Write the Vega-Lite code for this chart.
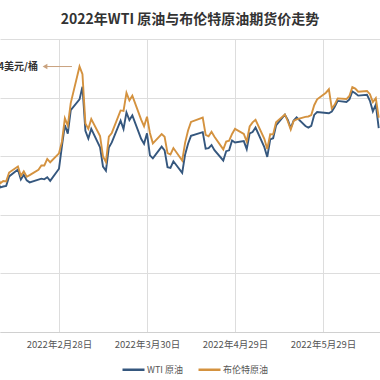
{
  "$schema": "https://vega.github.io/schema/vega-lite/v6.json",
  "width": 380,
  "height": 293,
  "autosize": {"type": "none"},
  "padding": {"top": 39, "left": 0, "right": 0, "bottom": 48},
  "background": "white",
  "title": {"text": "2022年WTI 原油与布伦特原油期货价走势", "fontSize": 14, "fontWeight": "bold", "color": "#333333", "font": "Noto Sans CJK SC", "anchor": "middle", "offset": 12},
  "config": {"view": {"stroke": null}, "font": "Noto Sans CJK SC"},
  "layer": [
    {
      "data": {"values": [
        {"d": "2022-02-07", "WTI 原油": 91.32, "布伦特原油": 92.69},
        {"d": "2022-02-08", "WTI 原油": 89.36, "布伦特原油": 90.78},
        {"d": "2022-02-09", "WTI 原油": 89.66, "布伦特原油": 91.55},
        {"d": "2022-02-10", "WTI 原油": 89.88, "布伦特原油": 91.41},
        {"d": "2022-02-11", "WTI 原油": 93.10, "布伦特原油": 94.44},
        {"d": "2022-02-14", "WTI 原油": 95.46, "布伦特原油": 96.48},
        {"d": "2022-02-15", "WTI 原油": 92.07, "布伦特原油": 93.28},
        {"d": "2022-02-16", "WTI 原油": 93.66, "布伦特原油": 94.81},
        {"d": "2022-02-17", "WTI 原油": 91.76, "布伦特原油": 92.97},
        {"d": "2022-02-18", "WTI 原油": 91.07, "布伦特原油": 93.54},
        {"d": "2022-02-21", "WTI 原油": null, "布伦特原油": 95.39},
        {"d": "2022-02-22", "WTI 原油": 92.35, "布伦特原油": 96.84},
        {"d": "2022-02-23", "WTI 原油": 92.10, "布伦特原油": 96.84},
        {"d": "2022-02-24", "WTI 原油": 92.81, "布伦特原油": 99.08},
        {"d": "2022-02-25", "WTI 原油": 91.59, "布伦特原油": 97.93},
        {"d": "2022-02-28", "WTI 原油": 95.72, "布伦特原油": 100.99},
        {"d": "2022-03-01", "WTI 原油": 103.41, "布伦特原油": 104.97},
        {"d": "2022-03-02", "WTI 原油": 110.60, "布伦特原油": 112.93},
        {"d": "2022-03-03", "WTI 原油": 107.67, "布伦特原油": 110.46},
        {"d": "2022-03-04", "WTI 原油": 115.68, "布伦特原油": 118.11},
        {"d": "2022-03-07", "WTI 原油": 119.40, "布伦特原油": 130.6},
        {"d": "2022-03-08", "WTI 原油": 123.70, "布伦特原油": 127.98},
        {"d": "2022-03-09", "WTI 原油": 108.70, "布伦特原油": 111.14},
        {"d": "2022-03-10", "WTI 原油": 106.02, "布伦特原油": 109.33},
        {"d": "2022-03-11", "WTI 原油": 109.33, "布伦特原油": 112.67},
        {"d": "2022-03-14", "WTI 原油": 103.01, "布伦特原油": 106.90},
        {"d": "2022-03-15", "WTI 原油": 96.44, "布伦特原油": 99.91},
        {"d": "2022-03-16", "WTI 原油": 95.04, "布伦特原油": 98.02},
        {"d": "2022-03-17", "WTI 原油": 102.98, "布伦特原油": 106.64},
        {"d": "2022-03-18", "WTI 原油": 104.70, "布伦特原油": 107.93},
        {"d": "2022-03-21", "WTI 原油": 112.12, "布伦特原油": 115.62},
        {"d": "2022-03-22", "WTI 原油": 109.27, "布伦特原油": 115.48},
        {"d": "2022-03-23", "WTI 原油": 114.93, "布伦特原油": 121.60},
        {"d": "2022-03-24", "WTI 原油": 112.34, "布伦特原油": 119.03},
        {"d": "2022-03-25", "WTI 原油": 113.90, "布伦特原油": 120.65},
        {"d": "2022-03-28", "WTI 原油": 105.96, "布伦特原油": 112.48},
        {"d": "2022-03-29", "WTI 原油": 104.24, "布伦特原油": 110.23},
        {"d": "2022-03-30", "WTI 原油": 107.82, "布伦特原油": 113.45},
        {"d": "2022-03-31", "WTI 原油": 100.28, "布伦特原油": 107.91},
        {"d": "2022-04-01", "WTI 原油": 99.27, "布伦特原油": 104.39},
        {"d": "2022-04-04", "WTI 原油": 103.28, "布伦特原油": 107.53},
        {"d": "2022-04-05", "WTI 原油": 102.00, "布伦特原油": 106.64},
        {"d": "2022-04-06", "WTI 原油": 96.23, "布伦特原油": 101.07},
        {"d": "2022-04-07", "WTI 原油": 96.03, "布伦特原油": 100.58},
        {"d": "2022-04-08", "WTI 原油": 98.26, "布伦特原油": 102.78},
        {"d": "2022-04-11", "WTI 原油": 94.29, "布伦特原油": 98.48},
        {"d": "2022-04-12", "WTI 原油": 100.60, "布伦特原油": 104.64},
        {"d": "2022-04-13", "WTI 原油": 104.25, "布伦特原油": 108.78},
        {"d": "2022-04-14", "WTI 原油": 106.95, "布伦特原油": 111.70},
        {"d": "2022-04-18", "WTI 原油": 108.21, "布伦特原油": 113.16},
        {"d": "2022-04-19", "WTI 原油": 102.56, "布伦特原油": 107.25},
        {"d": "2022-04-20", "WTI 原油": 102.75, "布伦特原油": 106.80},
        {"d": "2022-04-21", "WTI 原油": 103.79, "布伦特原油": 108.33},
        {"d": "2022-04-22", "WTI 原油": 102.07, "布伦特原油": 106.65},
        {"d": "2022-04-25", "WTI 原油": 98.54, "布伦特原油": 102.32},
        {"d": "2022-04-26", "WTI 原油": 101.70, "布伦特原油": 104.99},
        {"d": "2022-04-27", "WTI 原油": 102.02, "布伦特原油": 105.32},
        {"d": "2022-04-28", "WTI 原油": 105.36, "布伦特原油": 107.59},
        {"d": "2022-04-29", "WTI 原油": 104.69, "布伦特原油": 109.34},
        {"d": "2022-05-02", "WTI 原油": 105.17, "布伦特原油": 107.58},
        {"d": "2022-05-03", "WTI 原油": 102.41, "布伦特原油": 104.97},
        {"d": "2022-05-04", "WTI 原油": 107.81, "布伦特原油": 110.14},
        {"d": "2022-05-05", "WTI 原油": 108.26, "布伦特原油": 111.55},
        {"d": "2022-05-06", "WTI 原油": 109.77, "布伦特原油": 112.39},
        {"d": "2022-05-09", "WTI 原油": 103.09, "布伦特原油": 105.94},
        {"d": "2022-05-10", "WTI 原油": 99.76, "布伦特原油": 102.46},
        {"d": "2022-05-11", "WTI 原油": 105.71, "布伦特原油": 107.51},
        {"d": "2022-05-12", "WTI 原油": 106.13, "布伦特原油": 107.45},
        {"d": "2022-05-13", "WTI 原油": 110.49, "布伦特原油": 111.55},
        {"d": "2022-05-16", "WTI 原油": 114.20, "布伦特原油": 114.24},
        {"d": "2022-05-17", "WTI 原油": 112.40, "布伦特原油": 111.93},
        {"d": "2022-05-18", "WTI 原油": 109.59, "布伦特原油": 109.11},
        {"d": "2022-05-19", "WTI 原油": 112.21, "布伦特原油": 112.04},
        {"d": "2022-05-20", "WTI 原油": 113.23, "布伦特原油": 112.55},
        {"d": "2022-05-23", "WTI 原油": 110.29, "布伦特原油": 113.42},
        {"d": "2022-05-24", "WTI 原油": 109.77, "布伦特原油": 113.56},
        {"d": "2022-05-25", "WTI 原油": 110.33, "布伦特原油": 114.03},
        {"d": "2022-05-26", "WTI 原油": 114.09, "布伦特原油": 117.40},
        {"d": "2022-05-27", "WTI 原油": 115.07, "布伦特原油": 119.43},
        {"d": "2022-05-30", "WTI 原油": null, "布伦特原油": 121.67},
        {"d": "2022-05-31", "WTI 原油": 114.67, "布伦特原油": 122.84},
        {"d": "2022-06-01", "WTI 原油": 115.26, "布伦特原油": 116.29},
        {"d": "2022-06-02", "WTI 原油": 116.87, "布伦特原油": 117.61},
        {"d": "2022-06-03", "WTI 原油": 118.87, "布伦特原油": 119.72},
        {"d": "2022-06-06", "WTI 原油": 118.50, "布伦特原油": 119.51},
        {"d": "2022-06-07", "WTI 原油": 119.41, "布伦特原油": 120.57},
        {"d": "2022-06-08", "WTI 原油": 122.11, "布伦特原油": 123.58},
        {"d": "2022-06-09", "WTI 原油": 121.51, "布伦特原油": 123.07},
        {"d": "2022-06-10", "WTI 原油": 120.67, "布伦特原油": 122.01},
        {"d": "2022-06-13", "WTI 原油": 120.93, "布伦特原油": 122.27},
        {"d": "2022-06-14", "WTI 原油": 118.93, "布伦特原油": 121.17},
        {"d": "2022-06-15", "WTI 原油": 115.31, "布伦特原油": 118.51},
        {"d": "2022-06-16", "WTI 原油": 117.59, "布伦特原油": 119.81},
        {"d": "2022-06-17", "WTI 原油": 109.56, "布伦特原油": 113.12}
      ]},
      "transform": [
        {"fold": ["WTI 原油", "布伦特原油"], "as": ["s", "v"]},
        {"filter": "datum.v != null"}
      ],
      "mark": {"type": "line", "strokeWidth": 1.9, "clip": true},
      "encoding": {
        "x": {
          "field": "d", "type": "temporal",
          "scale": {"type": "utc", "domain": [
            {"year": 2022, "month": 2, "date": 7, "hours": 21, "minutes": 20, "utc": true},
            {"year": 2022, "month": 6, "date": 17, "hours": 10, "minutes": 20, "utc": true}
          ]},
          "axis": {
            "values": [
              {"year": 2022, "month": 2, "date": 28, "utc": true},
              {"year": 2022, "month": 3, "date": 30, "utc": true},
              {"year": 2022, "month": 4, "date": 29, "utc": true},
              {"year": 2022, "month": 5, "date": 29, "utc": true}
            ],
            "format": "%Y年%-m月%-d日",
            "title": null, "grid": true, "gridColor": "#dddddd", "ticks": false,
            "domainColor": "#d0d0d0", "labelFontSize": 9.5, "labelColor": "#555555",
            "labelPadding": 7, "labelOverlap": false, "labelFlush": false
          }
        },
        "y": {
          "field": "v", "type": "quantitative",
          "scale": {"domain": [40, 140], "nice": false, "zero": false},
          "axis": {"values": [40, 60, 80, 100, 120, 140], "labels": false, "ticks": false, "domain": false, "title": null, "gridColor": "#dddddd"}
        },
        "color": {
          "field": "s", "type": "nominal",
          "scale": {"domain": ["WTI 原油", "布伦特原油"], "range": ["#35577e", "#d4923f"]},
          "legend": {
            "orient": "none", "legendX": 121, "legendY": 318, "direction": "horizontal",
            "title": null, "symbolType": "stroke", "symbolStrokeWidth": 2.5, "symbolSize": 484,
            "labelFontSize": 9, "labelColor": "#555555", "columnPadding": 10, "labelOffset": 1
          }
        }
      }
    },
    {
      "data": {"values": [{}]},
      "mark": {"type": "rule", "color": "#c9a27e", "strokeWidth": 1},
      "encoding": {
        "x": {"datum": {"year": 2022, "month": 2, "date": 23, "hours": 5, "minutes": 30, "utc": true}, "type": "temporal"},
        "x2": {"datum": {"year": 2022, "month": 3, "date": 4, "hours": 10, "utc": true}},
        "y": {"datum": 130.6, "type": "quantitative"}
      }
    },
    {
      "data": {"values": [{}]},
      "mark": {"type": "point", "shape": "triangle-left", "filled": true, "color": "#c9a27e", "size": 30, "opacity": 1},
      "encoding": {
        "x": {"datum": {"year": 2022, "month": 2, "date": 23, "hours": 5, "minutes": 30, "utc": true}, "type": "temporal"},
        "y": {"datum": 130.6, "type": "quantitative"}
      }
    },
    {
      "data": {"values": [{}]},
      "mark": {"type": "text", "align": "right", "baseline": "middle", "fontSize": 10, "fontWeight": "bold", "color": "#333333", "clip": true, "text": "130.64美元/桶"},
      "encoding": {
        "x": {"datum": {"year": 2022, "month": 2, "date": 20, "hours": 20, "utc": true}, "type": "temporal"},
        "y": {"datum": 130.6, "type": "quantitative"}
      }
    }
  ]
}
